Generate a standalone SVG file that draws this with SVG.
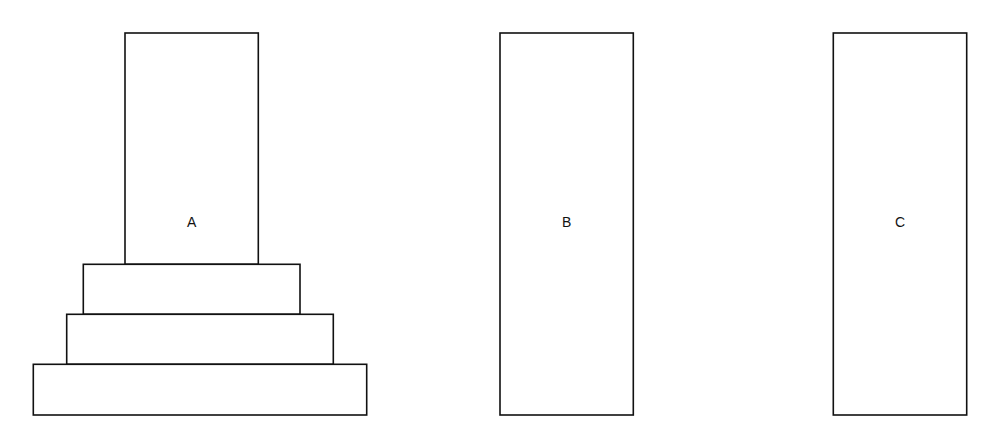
<svg xmlns="http://www.w3.org/2000/svg" width="1000" height="448" viewBox="0 0 1000 448">
<style>
.box{fill:#ffffff;stroke:#111111;stroke-width:1.6}
.lbl{font-family:"Liberation Sans",Arial,sans-serif;font-size:14px;fill:#111111;text-anchor:middle}
</style>
<rect width="1000" height="448" fill="#ffffff"/>
<g id="peg-A">
<rect class="box" x="125" y="33" width="133.3" height="231.3"/>
<text class="lbl" x="191.7" y="227.3">A</text>
</g>
<g id="disk-1"><rect class="box" x="83.3" y="264.3" width="216.7" height="50"/></g>
<g id="disk-2"><rect class="box" x="66.7" y="314.3" width="266.6" height="50"/></g>
<g id="disk-3"><rect class="box" x="33.3" y="364.3" width="333.4" height="50.7"/></g>
<g id="peg-B">
<rect class="box" x="500" y="33" width="133.3" height="382"/>
<text class="lbl" x="566.7" y="227.3">B</text>
</g>
<g id="peg-C">
<rect class="box" x="833.3" y="33" width="133.4" height="382"/>
<text class="lbl" x="900" y="227.3">C</text>
</g>
<g id="connectors"></g>
</svg>
